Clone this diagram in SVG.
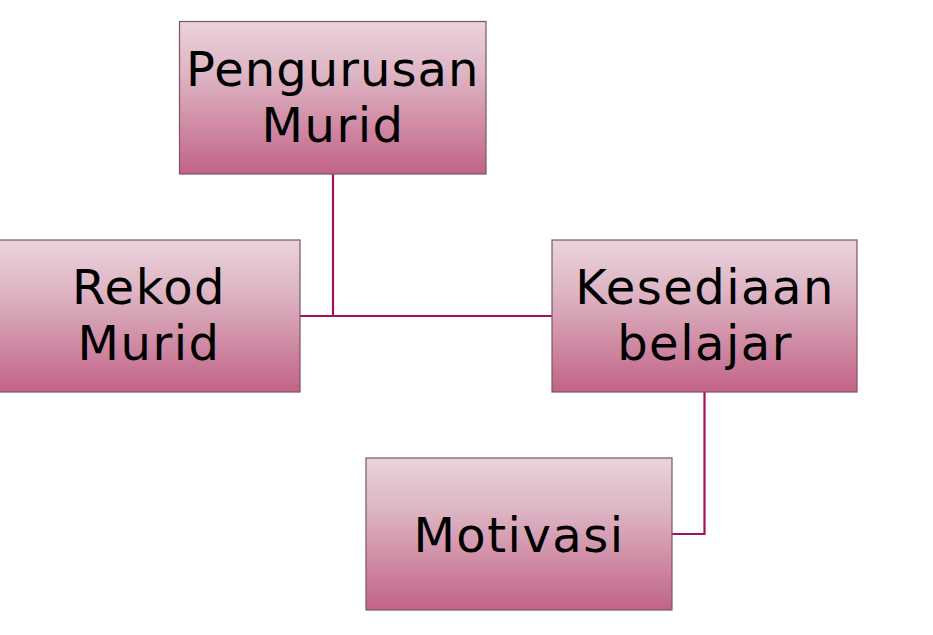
<svg xmlns="http://www.w3.org/2000/svg" width="933" height="635" viewBox="0 0 933 635">
<defs>
<linearGradient id="g" x1="0" y1="0" x2="0" y2="1">
<stop offset="0" stop-color="#EAD3DC"/>
<stop offset="0.35" stop-color="#DDB4C3"/>
<stop offset="1" stop-color="#C26387"/>
</linearGradient>
</defs>
<style>
.box{fill:url(#g);stroke:#7A5565;stroke-width:1.2}
.t{font-family:"DejaVu Sans","Liberation Sans",sans-serif;font-size:48px;letter-spacing:1.5px;fill:#000;text-anchor:middle}
.c{fill:none;stroke:#A3105E;stroke-width:2.2}
</style>
<rect width="933" height="635" fill="#fff"/>
<g id="connectors">
<path class="c" d="M333 174 V316 M300 316 H552"/>
<path class="c" d="M704.5 392 V534 H672"/>
</g>
<g id="pengurusan">
<rect class="box" x="179.5" y="21.5" width="306.5" height="152.5"/>
<text class="t" x="333" y="86" textLength="294" lengthAdjust="spacing">Pengurusan</text>
<text class="t" x="333" y="142">Murid</text>
</g>
<g id="rekod">
<rect class="box" x="-1" y="240" width="301" height="152"/>
<text class="t" x="149" y="304">Rekod</text>
<text class="t" x="149" y="360">Murid</text>
</g>
<g id="kesediaan">
<rect class="box" x="552" y="240" width="305" height="152"/>
<text class="t" x="705" y="304">Kesediaan</text>
<text class="t" x="705" y="360">belajar</text>
</g>
<g id="motivasi">
<rect class="box" x="366" y="458" width="306" height="152"/>
<text class="t" x="519" y="552">Motivasi</text>
</g>
</svg>
